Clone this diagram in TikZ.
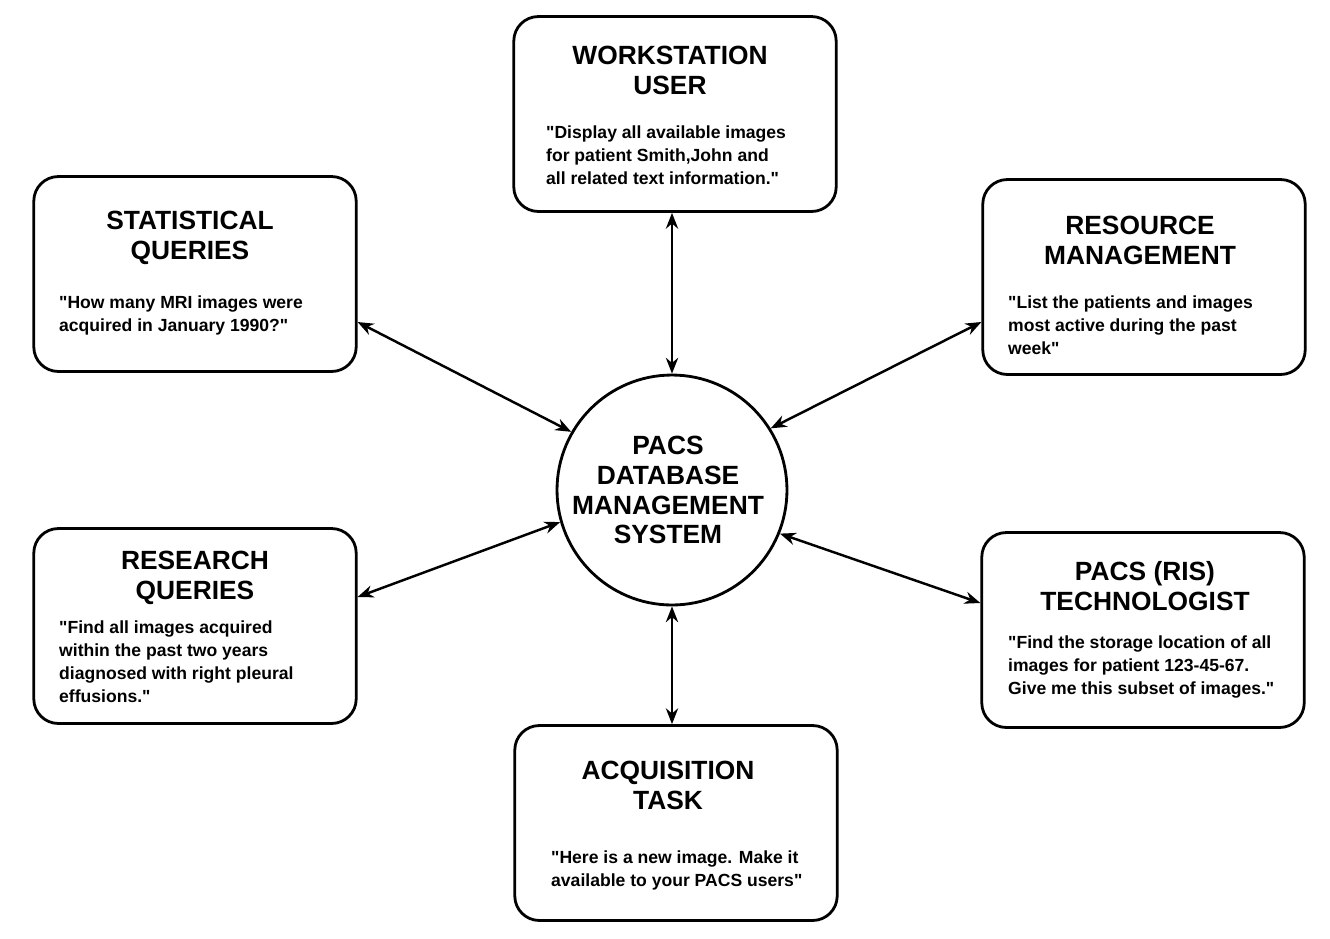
\documentclass[tikz,border=0pt]{standalone}
\usepackage{fontspec}
\setmainfont{Liberation Sans}
\usetikzlibrary{arrows.meta}
\newcommand{\qq}{\textquotedbl}
\begin{document}
\begin{tikzpicture}[x=0.02cm,y=-0.02cm,
  box/.style={draw,line width=1.6pt,rounded corners=14pt,minimum width=6.45cm,minimum height=3.9cm,inner sep=0pt},
  ttl/.style={font=\fontsize{15}{17}\selectfont\bfseries,align=center},
  body/.style={font=\fontsize{10}{13}\selectfont\bfseries,align=left},
  conn/.style={line width=1.4pt,{Stealth[length=9pt,width=7pt]}-{Stealth[length=9pt,width=7pt]}}]
\useasboundingbox (0,0) rectangle (1330,938);
\node[box] (ws) at (675,114) {};
\node[box] (st) at (195,274) {};
\node[box] (rm) at (1144,277) {};
\node[box] (rq) at (195,626) {};
\node[box] (rt) at (1143,630) {};
\node[box] (aq) at (676,823) {};
\node[draw,circle,line width=1.6pt,minimum size=4.6cm] (db) at (672,490) {};
\node[ttl] at (668,490) {PACS\\DATABASE\\MANAGEMENT\\SYSTEM};
\node[ttl,anchor=north] (t1) at (670,40) {WORKSTATION\\USER};
\node[body,anchor=north west] (b1) at (540,120) {\qq Display all available images\\for patient Smith,John and\\all related text information.\qq};
\node[ttl,anchor=north] (t2) at (190,205) {STATISTICAL\\QUERIES};
\node[body,anchor=north west] (b2) at (53,290) {\qq How many MRI images were\\acquired in January 1990?\qq};
\node[ttl,anchor=north] (t3) at (1140,210) {RESOURCE\\MANAGEMENT};
\node[body,anchor=north west] (b3) at (1002,290) {\qq List the patients and images\\most active during the past\\week\qq};
\node[ttl,anchor=north] (t4) at (195,545) {RESEARCH\\QUERIES};
\node[body,anchor=north west] (b4) at (53,615) {\qq Find all images acquired\\within the past two years\\diagnosed with right pleural\\effusions.\qq};
\node[ttl,anchor=north] (t5) at (1145,555) {PACS (RIS)\\TECHNOLOGIST};
\node[body,anchor=north west] (b5) at (1002,630) {\qq Find the storage location of all\\images for patient 123-45-67.\\Give me this subset of images.\qq};
\node[ttl,anchor=north] (t6) at (668,755) {ACQUISITION\\TASK};
\node[body,anchor=north west] (b6) at (545,845) {\qq Here is a new image. Make it\\available to your PACS users\qq};
\draw[conn] (db.north |- ws.south) -- (db.north);
\draw[conn] (st.east |- 0,322) -- (db.150);
\draw[conn] (rm.west |- 0,322) -- (db.32);
\draw[conn] (rq.east |- 0,597) -- (db.196);
\draw[conn] (rt.west |- 0,603) -- (db.-22);
\draw[conn] (db.south |- aq.north) -- (db.south);
\end{tikzpicture}
\end{document}
